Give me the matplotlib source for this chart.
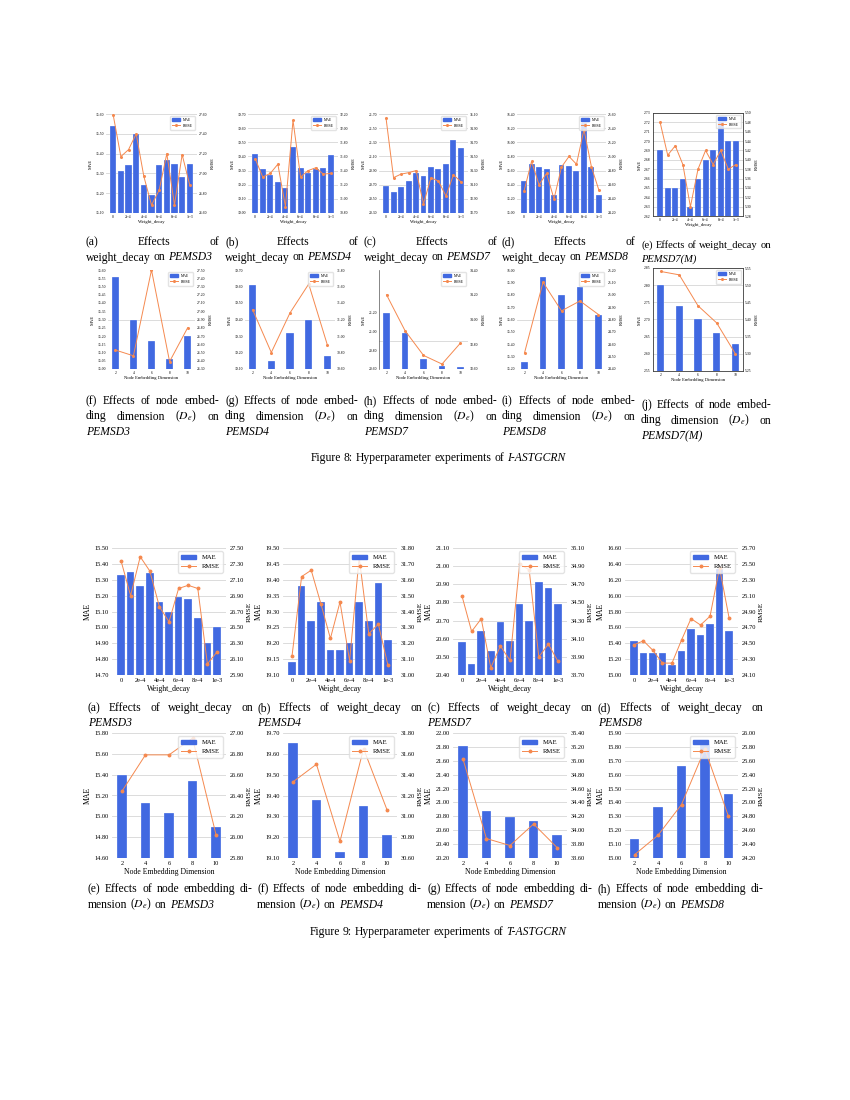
import numpy as np
import matplotlib
matplotlib.use('Agg')
import matplotlib.pyplot as plt
from matplotlib.patches import Patch
from matplotlib.lines import Line2D
from matplotlib.ticker import FormatStrFormatter

plt.rcParams['font.family'] = ['Liberation Serif', 'DejaVu Serif']
plt.rcParams['mathtext.fontset'] = 'stix'

W, H = 850, 1100
BLUE = '#4169E1'
ORANGE = '#F5894F'

# x axes
wd_steps = list(range(11))            # 0, 1e-4, ..., 1e-3
wd_tick_pos = [0, 2, 4, 6, 8, 10]
wd_tick_labels = ['0', '2e-4', '4e-4', '6e-4', '8e-4', '1e-3']
de_dims = [2, 4, 6, 8, 10]

# Figure 8: I-ASTGCRN, weight_decay
i_wd_mae_d3 = [15.54, 15.31, 15.34, 15.50, 15.24, 15.19, 15.34, 15.37, 15.35, 15.28, 15.35]
i_wd_rmse_d3 = [27.59, 27.17, 27.24, 27.40, 26.97, 26.68, 26.83, 27.20, 26.68, 27.19, 26.88]
i_wd_mae_d4 = [19.42, 19.31, 19.27, 19.22, 19.18, 19.47, 19.32, 19.28, 19.31, 19.32, 19.41]
i_wd_rmse_d4 = [31.57, 31.31, 31.36, 31.49, 30.89, 32.11, 31.31, 31.40, 31.44, 31.35, 31.36]
i_wd_mae_d7 = [20.68, 20.59, 20.67, 20.75, 20.87, 20.82, 20.95, 20.92, 20.99, 21.33, 21.22]
i_wd_rmse_d7 = [35.04, 34.20, 34.25, 34.27, 34.30, 33.83, 34.20, 34.15, 33.94, 34.24, 34.14]
i_wd_mae_d8 = [15.45, 15.69, 15.65, 15.62, 15.26, 15.68, 15.66, 15.60, 16.27, 15.65, 15.26]
i_wd_rmse_d8 = [24.51, 24.93, 24.60, 24.76, 24.40, 24.85, 25.00, 24.89, 25.38, 24.85, 24.52]
i_wd_mae_d7m = [2.69, 2.65, 2.65, 2.66, 2.63, 2.66, 2.68, 2.69, 2.72, 2.70, 2.70]
i_wd_rmse_d7m = [5.48, 5.41, 5.43, 5.39, 5.30, 5.38, 5.42, 5.39, 5.42, 5.38, 5.39]

# Figure 8: I-ASTGCRN, node embedding dimension
i_de_mae_d3 = [15.56, 15.30, 15.17, 15.06, 15.20]
i_de_rmse_d3 = [26.53, 26.46, 27.50, 26.39, 26.80]
i_de_mae_d4 = [19.61, 19.15, 19.32, 19.40, 19.18]
i_de_rmse_d4 = [31.32, 30.80, 31.28, 31.63, 30.89]
i_de_mae_d7 = [21.19, 20.98, 20.71, 20.63, 20.62]
i_de_rmse_d7 = [34.20, 33.91, 33.71, 33.64, 33.81]
i_de_mae_d8 = [15.26, 15.94, 15.80, 15.86, 15.64]
i_de_rmse_d8 = [24.53, 25.10, 24.87, 24.95, 24.84]
i_de_mae_d7m = [2.80, 2.74, 2.70, 2.66, 2.63]
i_de_rmse_d7m = [5.54, 5.53, 5.44, 5.39, 5.30]

# Figure 9: T-ASTGCRN, weight_decay
t_wd_mae_d3 = [15.33, 15.35, 15.26, 15.34, 15.16, 15.10, 15.19, 15.18, 15.06, 14.90, 15.00]
t_wd_rmse_d3 = [27.34, 26.90, 27.39, 27.21, 26.76, 26.57, 26.99, 27.03, 26.99, 26.04, 26.19]
t_wd_mae_d4 = [19.14, 19.38, 19.27, 19.33, 19.18, 19.18, 19.20, 19.33, 19.27, 19.39, 19.21]
t_wd_rmse_d4 = [31.12, 31.62, 31.66, 31.45, 31.23, 31.46, 31.09, 31.74, 31.26, 31.32, 31.06]
t_wd_mae_d7 = [20.58, 20.46, 20.64, 20.53, 20.69, 20.59, 20.79, 20.70, 20.91, 20.88, 20.79]
t_wd_rmse_d7 = [34.57, 34.18, 34.32, 33.78, 34.02, 33.86, 34.92, 34.86, 33.90, 34.04, 33.85]
t_wd_mae_d8 = [15.43, 15.28, 15.28, 15.28, 15.13, 15.30, 15.58, 15.50, 15.64, 16.34, 15.56]
t_wd_rmse_d8 = [24.48, 24.53, 24.41, 24.25, 24.25, 24.54, 24.81, 24.73, 24.84, 25.45, 24.82]

# Figure 9: T-ASTGCRN, node embedding dimension
t_de_mae_d3 = [15.40, 15.13, 15.03, 15.34, 14.90]
t_de_rmse_d3 = [26.44, 26.79, 26.79, 26.95, 26.02]
t_de_mae_d4 = [19.65, 19.38, 19.13, 19.35, 19.21]
t_de_rmse_d4 = [31.33, 31.50, 30.76, 31.65, 31.06]
t_de_mae_d7 = [21.81, 20.88, 20.79, 20.73, 20.53]
t_de_rmse_d7 = [35.03, 33.88, 33.78, 34.09, 33.75]
t_de_mae_d8 = [15.14, 15.37, 15.66, 15.82, 15.46]
t_de_rmse_d8 = [24.25, 24.53, 24.97, 25.77, 24.81]

fig = plt.figure(figsize=(W / 100, H / 100), dpi=100)
renderer = fig.canvas.get_renderer()


def ticks(lo, hi, step):
    return np.round(np.arange(lo, hi + step / 2, step), 4)


def panel(box, x, mae, rmse, mae_ax, rmse_ax, kind, small, boxed=False, hline=None):
    l, t, r, b = box
    ax = fig.add_axes([l / W, 1 - b / H, (r - l) / W, (b - t) / H])
    fs = 2.7 if small else 4.6
    lfs = 3.3 if small else 5.6
    width = 0.8 if kind == 'wd' else (0.75 if small else 0.8)
    ax.bar(x, mae, width=width, color=BLUE, edgecolor='white', linewidth=0.2, zorder=2)
    ax.set_ylim(mae_ax[0], mae_ax[1])
    ax.set_yticks(ticks(*mae_ax))
    ax.yaxis.set_major_formatter(FormatStrFormatter('%.2f'))
    if kind == 'wd':
        ax.set_xticks(wd_tick_pos, wd_tick_labels)
        ax.set_xlabel('Weight_decay', fontsize=lfs, labelpad=1)
    else:
        ax.set_xticks(x)
        ax.set_xlabel('Node Embedding Dimension', fontsize=lfs, labelpad=1)
    ax.set_ylabel('MAE', fontsize=lfs, labelpad=2)
    if hline is None:
        ax.yaxis.grid(True, color='#D6D6D6', lw=0.6)
    else:
        ax.axhline(hline, color='#D6D6D6', lw=0.6, zorder=0)
    ax.set_axisbelow(True)

    ax2 = ax.twinx()
    ms = 1.2 if small else 1.8
    ax2.plot(x, rmse, color=ORANGE, lw=0.7, marker='o', ms=ms, zorder=3)
    ax2.set_ylim(rmse_ax[0], rmse_ax[1])
    ax2.set_yticks(ticks(*rmse_ax))
    ax2.yaxis.set_major_formatter(FormatStrFormatter('%.2f'))
    ax2.set_ylabel('RMSE', fontsize=lfs * 0.95, labelpad=2)

    for a in (ax, ax2):
        a.tick_params(length=0, labelsize=fs, pad=1.5 if small else 2.5)
        for s in a.spines.values():
            if boxed:
                s.set_color('#333333')
                s.set_linewidth(0.4)
            else:
                s.set_visible(False)

    handles = [Patch(color=BLUE, label='MAE'),
               Line2D([], [], color=ORANGE, lw=0.7, marker='o', ms=ms, label='RMSE')]
    ax2.legend(handles=handles, loc='upper right', fontsize=fs if small else 4.8,
               framealpha=0.8, edgecolor='#DDDDDD', fancybox=True,
               borderpad=0.5, handlelength=2.2, labelspacing=0.5)
    return ax


def put_line(x0, width, y, text, size, justify, center=False):
    objs = []
    for tok in text.split(' '):
        italic = tok.startswith('*')
        objs.append(fig.text(0, 0, tok.strip('*'), fontsize=size, ha='left', va='baseline',
                             style='italic' if italic else 'normal'))
    widths = [o.get_window_extent(renderer).width for o in objs]
    gap = size * 100 / 72 * 0.25
    if justify and len(objs) > 1:
        gap = max(gap * 0.6, (width - sum(widths)) / (len(objs) - 1))
    if center:
        x0 = x0 - (sum(widths) + gap * (len(objs) - 1)) / 2
    cx = x0
    for o, w in zip(objs, widths):
        o.set_position((cx / W, 1 - y / H))
        cx += w + gap


def caption(x0, width, y, lines, size=8.4, step=15.5):
    for i, line in enumerate(lines):
        put_line(x0, width, y + i * step, line, size, i < len(lines) - 1)


# ---------------- Figure 8 ----------------
wd8 = [
    ((106, 114, 197, 213), i_wd_mae_d3, i_wd_rmse_d3, (15.10, 15.60, 0.10), (26.60, 27.60, 0.20)),
    ((248, 114, 338, 213), i_wd_mae_d4, i_wd_rmse_d4, (19.00, 19.70, 0.10), (30.80, 32.20, 0.20)),
    ((379, 114, 468, 213), i_wd_mae_d7, i_wd_rmse_d7, (20.30, 21.70, 0.20), (33.70, 35.10, 0.20)),
    ((517, 114, 606, 213), i_wd_mae_d8, i_wd_rmse_d8, (15.00, 16.40, 0.20), (24.20, 25.60, 0.20)),
]
for box, mae, rmse, ma, ra in wd8:
    panel(box, wd_steps, mae, rmse, ma, ra, 'wd', True)
panel((653, 113, 743, 216), wd_steps, i_wd_mae_d7m, i_wd_rmse_d7m,
      (2.62, 2.73, 0.01), (5.28, 5.50, 0.02), 'wd', True, boxed=True)

de8 = [
    ((108, 270, 195, 369), i_de_mae_d3, i_de_rmse_d3, (15.00, 15.60, 0.05), (26.30, 27.50, 0.10), 15.30),
    ((245, 270, 335, 369), i_de_mae_d4, i_de_rmse_d4, (19.10, 19.70, 0.10), (30.60, 31.80, 0.20), 19.40),
    ((379, 270, 468, 369), i_de_mae_d7, i_de_rmse_d7, (20.60, 21.65, 0.20), (33.60, 34.40, 0.20), None),
    ((517, 270, 606, 369), i_de_mae_d8, i_de_rmse_d8, (15.20, 16.00, 0.10), (24.40, 25.20, 0.10), 15.60),
]
for box, mae, rmse, ma, ra, hl in de8:
    ax = panel(box, de_dims, mae, rmse, ma, ra, 'de', True, hline=hl if hl else 20.9)
    if hl is None:
        ax.set_yticks(ticks(20.60, 21.20, 0.20))
        ax.spines['left'].set_visible(True)
        ax.spines['left'].set_color('#555555')
        ax.spines['left'].set_linewidth(0.5)
panel((653, 268, 743, 371), de_dims, i_de_mae_d7m, i_de_rmse_d7m,
      (2.55, 2.85, 0.05), (5.25, 5.55, 0.05), 'de', True, boxed=True)

cols8 = [86, 225, 364, 502]
names8 = ['PEMSD3', 'PEMSD4', 'PEMSD7', 'PEMSD8']
for i, (cx, nm) in enumerate(zip(cols8, names8)):
    tag = 'abcd'[i]
    caption(cx, 133, 245, [f'({tag}) Effects of', f'weight_decay on *{nm}*'])
    tag = 'fghi'[i]
    caption(cx, 133, 404, [f'({tag}) Effects of node embed-',
                           'ding dimension ($D_e$) on', f'*{nm}*'])
caption(641, 130, 248, ['(e) Effects of weight_decay on', '*PEMSD7(M)*'], size=7.6, step=14)
caption(641, 130, 408, ['(j) Effects of node embed-',
                        'ding dimension ($D_e$) on', '*PEMSD7(M)*'], size=8.4)
put_line(438, 0, 461, 'Figure 8: Hyperparameter experiments of *I-ASTGCRN*', 8.4, False, center=True)

# ---------------- Figure 9 ----------------
lefts9 = [112, 283, 453, 625]
rights9 = [226, 397, 567, 738]
wd9 = [
    (t_wd_mae_d3, t_wd_rmse_d3, (14.70, 15.50, 0.10), (25.90, 27.50, 0.20)),
    (t_wd_mae_d4, t_wd_rmse_d4, (19.10, 19.50, 0.05), (31.00, 31.80, 0.10)),
    (t_wd_mae_d7, t_wd_rmse_d7, (20.40, 21.10, 0.10), (33.70, 35.10, 0.20)),
    (t_wd_mae_d8, t_wd_rmse_d8, (15.00, 16.60, 0.20), (24.10, 25.70, 0.20)),
]
de9 = [
    (t_de_mae_d3, t_de_rmse_d3, (14.60, 15.80, 0.20), (25.80, 27.00, 0.20)),
    (t_de_mae_d4, t_de_rmse_d4, (19.10, 19.70, 0.10), (30.60, 31.80, 0.20)),
    (t_de_mae_d7, t_de_rmse_d7, (20.20, 22.00, 0.20), (33.60, 35.40, 0.20)),
    (t_de_mae_d8, t_de_rmse_d8, (15.00, 15.90, 0.10), (24.20, 26.00, 0.20)),
]
for l, r, (mae, rmse, ma, ra) in zip(lefts9, rights9, wd9):
    panel((l, 548, r, 675), wd_steps, mae, rmse, ma, ra, 'wd', False)
for l, r, (mae, rmse, ma, ra) in zip(lefts9, rights9, de9):
    panel((l, 733, r, 858), de_dims, mae, rmse, ma, ra, 'de', False)

cols9 = [88, 257, 427, 598]
for i, (cx, nm) in enumerate(zip(cols9, names8)):
    caption(cx, 165, 711, [f'({"abcd"[i]}) Effects of weight_decay on', f'*{nm}*'])
    caption(cx, 165, 892, [f'({"efgh"[i]}) Effects of node embedding di-',
                           f'mension ($D_e$) on *{nm}*'])
put_line(438, 0, 935, 'Figure 9: Hyperparameter experiments of *T-ASTGCRN*', 8.4, False, center=True)

fig.savefig('out.png', dpi=100)
